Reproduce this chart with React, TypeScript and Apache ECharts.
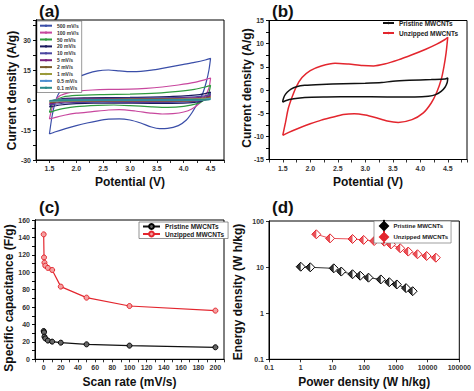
import React, { useEffect, useRef } from "react";
import * as echarts from "echarts";

const FONT = "Liberation Sans";

// ---------- Panel (a): CV curves at different scan rates ----------
const cvNames = ["500 mV/s", "100 mV/s", "50 mV/s", "20 mV/s", "10 mV/s", "5 mV/s", "2 mV/s", "1 mV/s", "0.5 mV/s", "0.1 mV/s"];
const cvColors = ["#3a4ea8", "#c8479e", "#2e9b3e", "#1a1a5e", "#4a46a0", "#7b1f7b", "#7a5c2c", "#9b9b3b", "#4d8fd0", "#2a8a8a"];
const cv500 = [
  [1.5, -17], [1.55, -8], [1.62, 0], [1.7, 4.5], [1.8, 7.5], [1.9, 9.5], [2.0, 11], [2.2, 13.2], [2.4, 14.6], [2.6, 15], [2.8, 14.6], [3.0, 14.2], [3.2, 14.3], [3.4, 14.9], [3.6, 15.8], [3.8, 16.8], [4.0, 17.8], [4.2, 18.8], [4.4, 20], [4.5, 20.8],
  [4.47, 15], [4.42, 9], [4.35, 3], [4.25, -2], [4.15, -6.5], [4.05, -10], [3.9, -12.8], [3.7, -14.2], [3.55, -14.3], [3.4, -13.5], [3.2, -11.5], [3.0, -10], [2.8, -9.4], [2.6, -9.6], [2.4, -10.4], [2.2, -11.5], [2.0, -12.8], [1.8, -14.3], [1.6, -16], [1.5, -17],
];
const cv100 = [
  [1.5, -9.5], [1.55, -4], [1.62, 0], [1.7, 2.2], [1.85, 3.6], [2.0, 4.3], [2.3, 5], [2.6, 5.3], [3.0, 5.4], [3.3, 5.8], [3.6, 6.5], [3.9, 7.5], [4.2, 8.8], [4.4, 10.2], [4.5, 11],
  [4.47, 6], [4.4, 2], [4.3, -1.5], [4.15, -4.5], [4.0, -6], [3.8, -6.8], [3.6, -7], [3.4, -6.6], [3.1, -5.5], [2.8, -4.8], [2.6, -5], [2.3, -5.8], [2.0, -6.6], [1.8, -7.5], [1.6, -8.8], [1.5, -9.5],
];
const cv50 = [
  [1.5, -6.2], [1.55, -2.5], [1.63, 0], [1.75, 1.5], [2.0, 2.3], [2.5, 2.7], [3.0, 2.9], [3.5, 3.4], [3.9, 4.3], [4.2, 5.3], [4.4, 6.5], [4.5, 7.3],
  [4.46, 3], [4.38, 0], [4.25, -1.8], [4.0, -3.2], [3.7, -3.7], [3.4, -3.4], [3.0, -2.8], [2.7, -2.5], [2.4, -2.7], [2.0, -3.3], [1.75, -4.3], [1.6, -5.3], [1.5, -6.2],
];
const cv20 = [
  [1.5, -3.6], [1.6, -0.5], [1.75, 0.7], [2.2, 1.1], [3.0, 1.3], [3.8, 1.8], [4.3, 2.7], [4.5, 3.9],
  [4.44, 0.8], [4.3, -0.8], [4.0, -1.6], [3.4, -1.7], [2.7, -1.5], [2.0, -1.8], [1.7, -2.5], [1.5, -3.6],
];
const cv10 = [
  [1.5, -2.6], [1.6, -0.3], [1.8, 0.5], [3.0, 0.9], [4.0, 1.3], [4.4, 2.1], [4.5, 3.0],
  [4.43, 0.5], [4.2, -0.7], [3.5, -1.2], [2.5, -1.1], [1.8, -1.5], [1.5, -2.6],
];
const cv5 = [
  [1.5, -1.9], [1.6, -0.2], [1.8, 0.35], [3.0, 0.6], [4.0, 0.9], [4.4, 1.5], [4.5, 2.2],
  [4.43, 0.4], [4.2, -0.5], [3.5, -0.8], [2.5, -0.75], [1.8, -1.0], [1.5, -1.9],
];
const cv2 = [
  [1.5, -1.2], [1.6, -0.1], [1.8, 0.25], [3.0, 0.4], [4.0, 0.6], [4.4, 1.0], [4.5, 1.5],
  [4.43, 0.3], [4.2, -0.3], [3.5, -0.5], [2.5, -0.5], [1.8, -0.65], [1.5, -1.2],
];
const cv1 = [
  [1.5, -0.8], [1.6, -0.05], [1.8, 0.18], [3.0, 0.28], [4.0, 0.4], [4.4, 0.7], [4.5, 1.0],
  [4.43, 0.2], [4.2, -0.2], [3.5, -0.35], [2.5, -0.35], [1.8, -0.45], [1.5, -0.8],
];
const cv05 = [
  [1.5, -0.55], [1.6, 0], [1.8, 0.12], [3.0, 0.2], [4.0, 0.28], [4.4, 0.5], [4.5, 0.7],
  [4.43, 0.12], [4.2, -0.15], [3.5, -0.25], [2.5, -0.25], [1.8, -0.3], [1.5, -0.55],
];
const cv01 = [
  [1.5, -0.3], [1.6, 0], [1.8, 0.06], [3.0, 0.1], [4.0, 0.15], [4.4, 0.25], [4.5, 0.35],
  [4.43, 0.06], [4.2, -0.08], [3.5, -0.12], [2.5, -0.12], [1.8, -0.15], [1.5, -0.3],
];
const cvData = [cv500, cv100, cv50, cv20, cv10, cv5, cv2, cv1, cv05, cv01];
const aXLabels = ["1.5", "2.0", "2.5", "3.0", "3.5", "4.0", "4.5"];
const aYLabels = ["-30", "-15", "0", "15", "30"];

// ---------- Panel (b): pristine vs unzipped CV ----------
const bUnzipped = [
  [1.5, -9.8], [1.55, -7], [1.6, -4], [1.67, -1.5], [1.75, 0.8], [1.85, 2.7], [2.0, 4.2], [2.2, 5.2], [2.45, 5.8], [2.7, 5.6], [2.95, 5.3], [3.15, 5.2], [3.35, 5.6], [3.6, 6.5], [3.85, 7.6], [4.1, 8.8], [4.3, 9.9], [4.45, 10.9], [4.5, 11.4],
  [4.47, 8], [4.43, 5], [4.38, 2.2], [4.3, -0.5], [4.2, -2.8], [4.05, -5], [3.85, -6.4], [3.6, -7.0], [3.4, -6.7], [3.2, -6.0], [3.0, -5.4], [2.8, -5.1], [2.6, -5.3], [2.4, -5.9], [2.2, -6.5], [2.0, -7.3], [1.8, -8.2], [1.6, -9.2], [1.5, -9.8],
];
const bPristine = [
  [1.5, -2.3], [1.53, -1.3], [1.58, -0.5], [1.65, 0.2], [1.75, 0.7], [1.9, 1.0], [2.2, 1.2], [2.6, 1.35], [3.0, 1.45], [3.3, 1.6], [3.5, 1.9], [3.8, 2.1], [4.2, 2.25], [4.45, 2.35], [4.5, 2.6],
  [4.49, 1.6], [4.45, 0.6], [4.38, -0.3], [4.28, -1.0], [4.15, -1.35], [3.9, -1.5], [3.4, -1.5], [2.8, -1.45], [2.3, -1.5], [1.9, -1.6], [1.7, -1.9], [1.55, -2.3], [1.5, -2.6], [1.5, -2.3],
];
const bXLabels = ["1.5", "2.0", "2.5", "3.0", "3.5", "4.0", "4.5"];
const bYLabels = ["-15", "-10", "-5", "0", "5", "10", "15"];

// ---------- Panel (c): specific capacitance vs scan rate ----------
const scanRates = [0.1, 0.5, 1, 2, 5, 10, 20, 50, 100, 200];
const cPristine = [32.5, 31, 26, 24, 21.5, 20.3, 19.1, 17.2, 15.7, 13.8];
const cUnzipped = [143.5, 117, 111, 107.5, 105, 102.6, 83.5, 70.8, 61.2, 55.9];
const cXLabels = ["0", "20", "40", "60", "80", "100", "120", "140", "160", "180", "200"];
const cYLabels = ["0", "20", "40", "60", "80", "100", "120", "140", "160"];

// ---------- Panel (d): Ragone plot ----------
const dPristineP = [1, 2, 11, 19, 43, 75, 137, 335, 620, 1070, 2090, 3380];
const dPristineE = [10.2, 9.9, 9.4, 8.0, 7.0, 6.5, 5.9, 5.4, 4.7, 4.2, 3.5, 3.0];
const dUnzippedP = [3.1, 8.4, 43, 96, 207, 430, 700, 1370, 2450, 4800, 9300, 18200];
const dUnzippedE = [51.5, 42, 40.7, 38.9, 36.8, 35.6, 31.1, 25.6, 21.7, 19.0, 17.4, 16.0];
const dXLabels = ["0.1", "1", "10", "100", "1000", "10000", "100000"];
const dYLabels = ["0.1", "1", "10", "100"];

const legendNames = ["Pristine MWCNTs", "Unzipped MWCNTs"];
const panelLabels = ["(a)", "(b)", "(c)", "(d)"];
const yTitles = ["Current density (A/g)", "Current density (A/g)", "Specific capacitance (F/g)", "Energy density (W h/kg)"];
const xTitles = ["Potential (V)", "Potential (V)", "Scan rate (mV/s)", "Power density (W h/kg)"];

const BLACK = "#111";
const RED = "#e3262e";
const halfPath = "path://M10,0 L0,10 L10,20 Z";
const iconPath = "path://M10,0 L0,10 L10,20 Z M10,0 L20,10 L10,20 L10,16.5 L16.5,10 L10,3.5 Z";

const pick = (labels: string[]) => (v: number) => {
  const s = labels.find((l) => Math.abs(parseFloat(l) - v) < 1e-6);
  return s === undefined ? "" : s;
};
const pickLog = (labels: string[]) => (v: number) => {
  const s = labels.find((l) => Math.abs(Math.log10(parseFloat(l)) - Math.log10(v)) < 1e-6);
  return s === undefined ? "" : s;
};

const labelStyle = { fontSize: 7, fontWeight: "bold", color: "#333", fontFamily: FONT };
const nameStyle = { fontSize: 12, fontWeight: "bold", color: "#111", fontFamily: FONT };
const legendText = { fontSize: 6.5, fontWeight: "bold", color: "#222", fontFamily: FONT };

function axisBase(extra: any) {
  return {
    nameLocation: "middle",
    nameTextStyle: { ...nameStyle },
    axisLine: { show: true, onZero: false, lineStyle: { color: "#000", width: 1 } },
    axisTick: { show: true, inside: false, length: 3, lineStyle: { color: "#000", width: 0.8 } },
    splitLine: { show: false },
    ...extra,
    axisLabel: { ...labelStyle, ...(extra.axisLabel || {}) },
  };
}

const gridBoxes = [
  { left: 36, top: 20, width: 188, height: 140 },
  { left: 269, top: 20.5, width: 198, height: 139 },
  { left: 35, top: 220, width: 189, height: 139.3 },
  { left: 269, top: 221, width: 190.3, height: 138.3 },
];
const panelLabelPos = [[39, 3], [272, 3], [39, 199], [272, 199]];
const yTitlePos = [[12, 90.5], [247, 88], [8.5, 298], [238, 292]];

// y-axis definitions of the value panels (a), (b), (c)
const yValueAxes = [
  { min: -30, max: 40, interval: 7.5, labels: aYLabels, xMin: 1.25, xMax: 4.75 },
  { min: -15, max: 15, interval: 2.5, labels: bYLabels, xMin: 1.25, xMax: 4.85 },
  { min: 0, max: 160, interval: 10, labels: cYLabels, xMin: -10, xMax: 210 },
];

function baseOption(i: number, xAxis: any, yAxis: any, series: any[], legend: any[]) {
  return {
    animation: false,
    backgroundColor: "transparent",
    grid: { ...gridBoxes[i], show: true, borderColor: "#000", borderWidth: 1 },
    xAxis: { ...xAxis, name: xTitles[i] },
    yAxis,
    series,
    legend,
    graphic: [
      { type: "text", left: panelLabelPos[i][0], top: panelLabelPos[i][1], style: { text: panelLabels[i], fontSize: 17, fontWeight: "bold", fill: "#111", fontFamily: FONT } },
      {
        type: "text", x: yTitlePos[i][0], y: yTitlePos[i][1], rotation: Math.PI / 2,
        style: { text: yTitles[i], fontSize: 12, fontWeight: "bold", fill: "#111", fontFamily: FONT, align: "center", verticalAlign: "middle" },
      },
    ],
  };
}

function yValue(k: number, showLabel: boolean) {
  const a = yValueAxes[k];
  return axisBase({
    type: "value", min: a.min, max: a.max, interval: a.interval,
    axisLabel: showLabel ? { margin: 5, formatter: pick(a.labels) } : { show: false },
  });
}

function buildOptions() {
  const strip = (n: string) => n.slice(2);

  const optA = baseOption(
    0,
    axisBase({ type: "value", min: 1.25, max: 4.75, interval: 0.25, nameGap: 16, axisLabel: { margin: 5, formatter: pick(aXLabels) } }),
    yValue(0, false),
    cvData.map((d, i) => ({
      name: cvNames[i], type: "line", data: d, symbol: "none", smooth: 0.25,
      lineStyle: { color: cvColors[i], width: 1.2 }, itemStyle: { color: cvColors[i] },
    })),
    [{
      data: cvNames, orient: "vertical", left: 37, top: 21, selectedMode: false,
      itemWidth: 12, itemHeight: 3, itemGap: 1.5, itemTextGap: 7, padding: [2, 3, 2, 2],
      borderColor: "#555", borderWidth: 0.6, backgroundColor: "#fff",
      textStyle: { fontSize: 5, lineHeight: 5.4, fontWeight: "bold", color: "#333", fontFamily: FONT },
    }],
  );

  const optB = baseOption(
    1,
    axisBase({ type: "value", min: 1.25, max: 4.85, interval: 0.25, nameGap: 16, axisLabel: { margin: 5, formatter: pick(bXLabels) } }),
    yValue(1, false),
    [
      { name: "b:" + legendNames[1], type: "line", data: bUnzipped, symbol: "none", smooth: 0.25, lineStyle: { color: RED, width: 1.5 }, itemStyle: { color: RED } },
      { name: "b:" + legendNames[0], type: "line", data: bPristine, symbol: "none", smooth: 0.25, lineStyle: { color: BLACK, width: 1.5 }, itemStyle: { color: BLACK } },
    ],
    [{
      data: ["b:" + legendNames[0], "b:" + legendNames[1]], orient: "vertical", left: 381, top: 18, selectedMode: false,
      itemWidth: 11, itemHeight: 3, itemGap: 2, itemTextGap: 3, padding: 1, formatter: strip,
      textStyle: { ...legendText, lineHeight: 8 },
    }],
  );

  const optC = baseOption(
    2,
    axisBase({ type: "value", min: -10, max: 210, interval: 10, nameGap: 17, axisLabel: { margin: 5, formatter: pick(cXLabels) } }),
    yValue(2, false),
    [
      { name: "c:" + legendNames[0], type: "line", data: scanRates.map((x, i) => [x, cPristine[i]]), symbol: "circle", symbolSize: 5, lineStyle: { color: BLACK, width: 1.2 }, itemStyle: { color: "#666", borderColor: "#000", borderWidth: 1 } },
      { name: "c:" + legendNames[1], type: "line", data: scanRates.map((x, i) => [x, cUnzipped[i]]), symbol: "circle", symbolSize: 5, lineStyle: { color: RED, width: 1.2 }, itemStyle: { color: "#f4a0a0", borderColor: RED, borderWidth: 1 } },
    ],
    [{
      data: ["c:" + legendNames[0], "c:" + legendNames[1]], orient: "vertical", left: 139, top: 222, selectedMode: false,
      itemWidth: 17, itemHeight: 6, itemGap: 0.5, itemTextGap: 3, padding: [1, 4, 1, 3], formatter: strip,
      borderColor: "#666", borderWidth: 0.7, backgroundColor: "#fff",
      textStyle: { ...legendText, lineHeight: 7 },
    }],
  );

  const dSeries: any[] = [];
  [
    { name: "d:" + legendNames[0], p: dPristineP, e: dPristineE, c: "#000" },
    { name: "d:" + legendNames[1], p: dUnzippedP, e: dUnzippedE, c: RED },
  ].forEach((s) => {
    const data = s.p.map((x, i) => [x, s.e[i]]);
    dSeries.push({
      name: s.name, type: "line", data, symbol: "diamond", symbolSize: 9,
      lineStyle: { color: s.c, width: 0.8 }, itemStyle: { color: "#fff", borderColor: s.c, borderWidth: 1 },
    });
    dSeries.push({
      name: s.name + " fill", type: "scatter", data, symbol: halfPath,
      symbolSize: [4.5, 9], symbolOffset: [-2.25, 0], itemStyle: { color: s.c }, z: 3,
    });
  });
  const optD = baseOption(
    3,
    axisBase({ type: "log", logBase: 10, min: 0.1, max: 100000, nameGap: 17, axisLabel: { margin: 5, formatter: pickLog(dXLabels) } }),
    axisBase({ type: "log", logBase: 10, min: 0.1, max: 100, axisLabel: { margin: 5, formatter: pickLog(dYLabels) } }),
    dSeries,
    [{
      data: [
        { name: "d:" + legendNames[0], icon: iconPath, itemStyle: { color: "#000" } },
        { name: "d:" + legendNames[1], icon: iconPath, itemStyle: { color: RED } },
      ],
      orient: "vertical", left: 374, top: 221, selectedMode: false,
      itemWidth: 9, itemHeight: 8, itemGap: 1, itemTextGap: 4, padding: [0, 3, 1, 5], formatter: strip,
      borderColor: "#777", borderWidth: 0.7, backgroundColor: "#fff",
      textStyle: { ...legendText, fontSize: 6 },
    }],
  );

  // Top layer: only the value y axes of (a), (b), (c) with their tick labels.
  const optLabels = {
    animation: false,
    backgroundColor: "transparent",
    grid: [0, 1, 2].map((k) => ({ ...gridBoxes[k], show: false })),
    xAxis: [0, 1, 2].map((k) => ({ type: "value", gridIndex: k, min: yValueAxes[k].xMin, max: yValueAxes[k].xMax, show: false })),
    yAxis: [0, 1, 2].map((k) => ({ ...yValue(k, true), gridIndex: k })),
    series: [],
  };
  return [optA, optB, optC, optD, optLabels];
}

const layerStyle: React.CSSProperties = { position: "absolute", left: 0, top: 0, width: 474, height: 391 };

export default function App() {
  const r0 = useRef<HTMLDivElement>(null);
  const r1 = useRef<HTMLDivElement>(null);
  const r2 = useRef<HTMLDivElement>(null);
  const r3 = useRef<HTMLDivElement>(null);
  const r4 = useRef<HTMLDivElement>(null);
  useEffect(() => {
    const refs = [r0, r1, r2, r3, r4];
    const options = buildOptions();
    const charts = refs.map((r, i) => {
      const c = echarts.init(r.current as HTMLDivElement, null, { renderer: "svg" });
      c.setOption(options[i]);
      return c;
    });
    return () => charts.forEach((c) => c.dispose());
  }, []);
  return (
    <div style={{ position: "absolute", left: 0, top: 0, width: 474, height: 391, background: "#fff" }}>
      <div ref={r0} style={layerStyle} />
      <div ref={r1} style={layerStyle} />
      <div ref={r2} style={layerStyle} />
      <div ref={r3} style={layerStyle} />
      <div ref={r4} style={layerStyle} />
    </div>
  );
}
